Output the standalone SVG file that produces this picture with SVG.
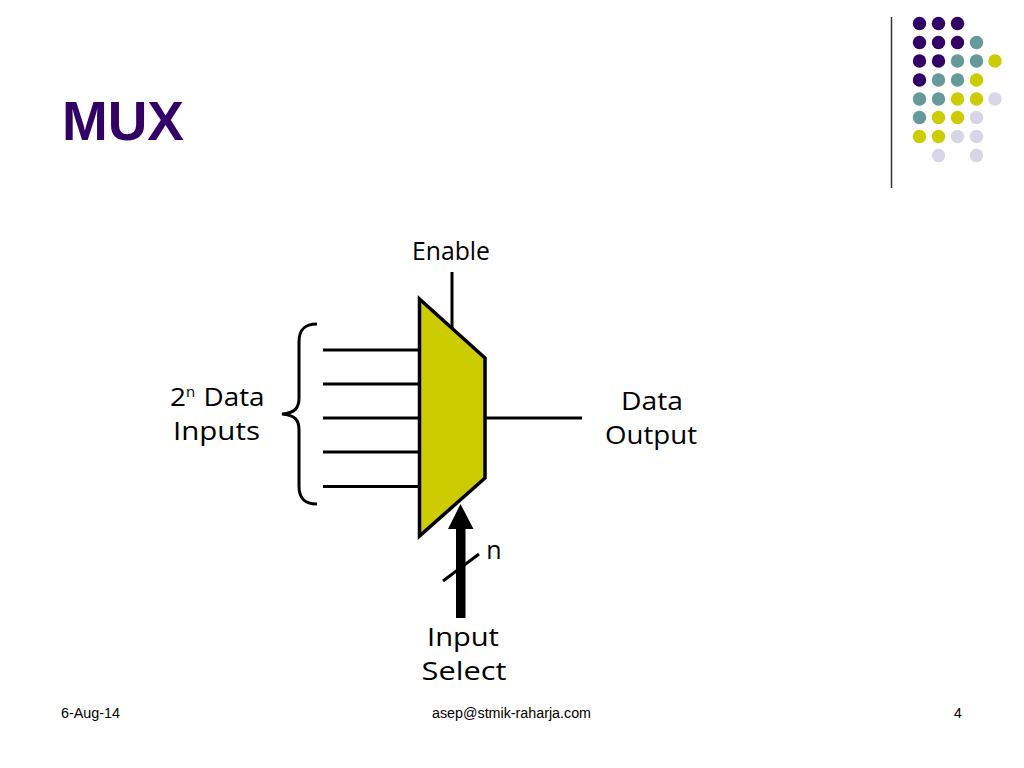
<svg xmlns="http://www.w3.org/2000/svg" width="1024" height="768" viewBox="0 0 1024 768">
<defs><style>
.p{fill:#330066}.t{fill:#669999}.y{fill:#CCCC00}.l{fill:#D6D6E8}
.w{stroke:#000;stroke-width:3;fill:none}
.c{font-family:"Open Sans","DejaVu Sans",sans-serif;font-size:25px;fill:#000;text-anchor:middle}
.f{font-family:"Liberation Sans",Arial,sans-serif;font-size:14px;fill:#000}
</style></defs>
<rect width="1024" height="768" fill="#fff"/>
<g id="decoration">
<line x1="891.5" y1="17" x2="891.5" y2="188" stroke="#333" stroke-width="1.5"/>
<g>
<circle class="p" cx="919.5" cy="23.5" r="6.7"/><circle class="p" cx="938.5" cy="23.5" r="6.7"/><circle class="p" cx="957.5" cy="23.5" r="6.7"/>
<circle class="p" cx="919.5" cy="42.5" r="6.7"/><circle class="p" cx="938.5" cy="42.5" r="6.7"/><circle class="p" cx="957.5" cy="42.5" r="6.7"/><circle class="t" cx="976.5" cy="42.5" r="6.7"/>
<circle class="p" cx="919.5" cy="61" r="6.7"/><circle class="p" cx="938.5" cy="61" r="6.7"/><circle class="t" cx="957.5" cy="61" r="6.7"/><circle class="t" cx="976.5" cy="61" r="6.7"/><circle class="y" cx="995" cy="61" r="6.7"/>
<circle class="p" cx="919.5" cy="80" r="6.7"/><circle class="t" cx="938.5" cy="80" r="6.7"/><circle class="t" cx="957.5" cy="80" r="6.7"/><circle class="y" cx="976.5" cy="80" r="6.7"/>
<circle class="t" cx="919.5" cy="99" r="6.7"/><circle class="t" cx="938.5" cy="99" r="6.7"/><circle class="y" cx="957.5" cy="99" r="6.7"/><circle class="y" cx="976.5" cy="99" r="6.7"/><circle class="l" cx="995" cy="99" r="6.7"/>
<circle class="t" cx="919.5" cy="117.5" r="6.7"/><circle class="y" cx="938.5" cy="117.5" r="6.7"/><circle class="y" cx="957.5" cy="117.5" r="6.7"/><circle class="l" cx="976.5" cy="117.5" r="6.7"/>
<circle class="y" cx="919.5" cy="136.5" r="6.7"/><circle class="y" cx="938.5" cy="136.5" r="6.7"/><circle class="l" cx="957.5" cy="136.5" r="6.7"/><circle class="l" cx="976.5" cy="136.5" r="6.7"/>
<circle class="l" cx="938.5" cy="155.5" r="6.7"/><circle class="l" cx="976.5" cy="155.5" r="6.7"/>
</g>
</g>
<g id="title"><text x="62" y="140" font-family="Liberation Sans,Arial,sans-serif" font-size="56" font-weight="bold" fill="#330066" textLength="122" lengthAdjust="spacingAndGlyphs">MUX</text></g>
<g id="connectors">
<line class="w" x1="452" y1="272" x2="452" y2="330"/>
<line class="w" x1="323" y1="350" x2="420" y2="350"/>
<line class="w" x1="323" y1="384" x2="420" y2="384"/>
<line class="w" x1="323" y1="418" x2="420" y2="418"/>
<line class="w" x1="323" y1="452" x2="420" y2="452"/>
<line class="w" x1="323" y1="486.500" x2="420" y2="486.500"/>
<line class="w" x1="485" y1="418" x2="582" y2="418"/>
<rect x="456" y="528" width="9.500" height="90" fill="#000"/>
<polygon points="460.500,504 473.500,529 448,529" fill="#000"/>
<line class="w" x1="443" y1="581" x2="479" y2="554"/>
<path class="w" d="M317 324C304 324 299 330 299 342V398C299 408 295 413 282 414C295 415 299 420 299 430V486C299 498 304 504 317 504"/>
</g>
<g id="mux"><polygon points="419.500,299 485,358 485,478 419.500,536" fill="#CCCC00" stroke="#000" stroke-width="3.500"/></g>
<g id="labels">
<text class="c" x="451" y="260" textLength="78" lengthAdjust="spacingAndGlyphs">Enable</text>
<text class="c" x="652" y="410" textLength="62" lengthAdjust="spacingAndGlyphs">Data</text>
<text class="c" x="651" y="444" textLength="92" lengthAdjust="spacingAndGlyphs">Output</text>
<text class="c" x="463" y="646" textLength="72" lengthAdjust="spacingAndGlyphs">Input</text>
<text class="c" x="464" y="680" textLength="85" lengthAdjust="spacingAndGlyphs">Select</text>
<text class="c" x="494" y="559" font-size="23">n</text>
<text class="c" x="178" y="406" font-size="25" textLength="16" lengthAdjust="spacingAndGlyphs">2</text>
<text class="c" x="190.500" y="397" style="font-size:15px">n</text>
<text class="c" x="234" y="406" textLength="61" lengthAdjust="spacingAndGlyphs">Data</text>
<text class="c" x="216.500" y="440" textLength="87" lengthAdjust="spacingAndGlyphs">Inputs</text>
</g>
<g id="footer">
<text class="f" x="61" y="718" textLength="59" lengthAdjust="spacingAndGlyphs">6-Aug-14</text>
<text class="f" x="511.500" y="718" text-anchor="middle" textLength="159" lengthAdjust="spacingAndGlyphs">asep@stmik-raharja.com</text>
<text class="f" x="958" y="718" text-anchor="middle">4</text>
</g>
</svg>
